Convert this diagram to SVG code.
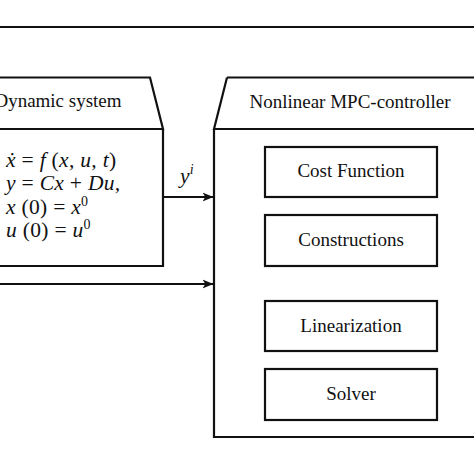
<svg xmlns="http://www.w3.org/2000/svg" width="474" height="474" viewBox="0 0 474 474">
<defs>
<style>
.ln{fill:none;stroke:#111;stroke-width:2.2;stroke-linejoin:miter}
.box{fill:#fff;stroke:#111;stroke-width:2.2}
.lbl{font-family:"Liberation Serif","Times New Roman",serif;font-size:19px;fill:#111;text-anchor:middle}
.math{font-family:"Liberation Serif","Times New Roman",serif;font-size:21.5px;font-style:italic;fill:#111;letter-spacing:0.3px}
.up{font-style:normal}
.sup{font-style:normal;font-size:14px}
.supi{font-style:italic;font-size:14px}
</style>
<marker id="arr" viewBox="0 0 11 10" refX="10.5" refY="5" markerWidth="11" markerHeight="10" markerUnits="userSpaceOnUse" orient="auto">
<path d="M0,0.5 L11,5 L0,9.5 L2.8,5 Z" fill="#111"/>
</marker>
</defs>
<rect width="474" height="474" fill="#fff"/>
<g id="frame">
<line class="ln" x1="0" y1="27" x2="474" y2="27"/>
</g>
<g id="dynamic-system">
<path class="ln" d="M0,77.5 H150 L163,129 H0 M163,129 V266 H0"/>
<text class="lbl" x="58" y="107">Dynamic system</text>
<text class="math" x="6" y="167">ẋ<tspan class="up"> = </tspan>f<tspan class="up"> (</tspan>x, u, t<tspan class="up">)</tspan></text>
<text class="math" x="6" y="190">y<tspan class="up"> = </tspan>Cx<tspan class="up"> + </tspan>Du,</text>
<text class="math" x="6" y="214">x<tspan class="up"> (0) = </tspan>x<tspan class="sup" dy="-8">0</tspan></text>
<text class="math" x="6" y="237">u<tspan class="up"> (0) = </tspan>u<tspan class="sup" dy="-8">0</tspan></text>
</g>
<g id="mpc-controller">
<path class="ln" d="M227,77.5 H474 M227,77.5 L214,129 H474 M214,129 V437 H474"/>
<text class="lbl" x="350" y="108">Nonlinear MPC-controller</text>
</g>
<g id="cost-function">
<rect class="box" x="265" y="147" width="172" height="50"/>
<text class="lbl" x="351" y="177">Cost Function</text>
</g>
<g id="constructions">
<rect class="box" x="265" y="215" width="172" height="51"/>
<text class="lbl" x="351" y="246">Constructions</text>
</g>
<g id="linearization">
<rect class="box" x="265" y="301" width="172" height="50"/>
<text class="lbl" x="351" y="332">Linearization</text>
</g>
<g id="solver">
<rect class="box" x="265" y="369" width="172" height="51"/>
<text class="lbl" x="351" y="400">Solver</text>
</g>
<g id="connectors">
<line class="ln" x1="163" y1="197" x2="213" y2="197" marker-end="url(#arr)"/>
<line class="ln" x1="0" y1="284" x2="213" y2="284" marker-end="url(#arr)"/>
<text class="math" x="180" y="183">y<tspan class="supi" dy="-9">i</tspan></text>
</g>
</svg>
